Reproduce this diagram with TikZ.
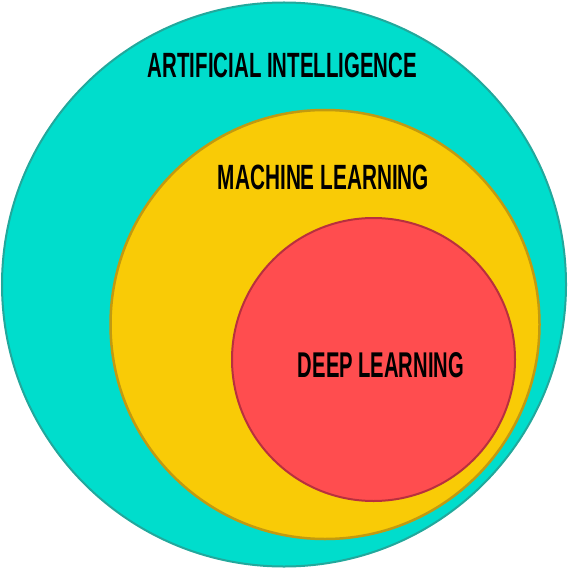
\documentclass[tikz,border=0pt]{standalone}
\usepackage{fontspec}
\setmainfont{Liberation Sans}
\definecolor{aifill}{HTML}{00DDCC}
\definecolor{aidraw}{HTML}{22A89C}
\definecolor{mlfill}{HTML}{F9CB06}
\definecolor{mldraw}{HTML}{C29A10}
\definecolor{dlfill}{HTML}{FF4D4F}
\definecolor{dldraw}{HTML}{B8303E}
\tikzset{
  ring/.style={circle, inner sep=0pt, line width=2pt},
  lbl/.style={inner sep=0pt, text=black, font=\bfseries},
}
\begin{document}
\begin{tikzpicture}[x=1pt,y=-1pt]
\useasboundingbox (0,0) rectangle (567,569);
\node[ring, fill=aifill, draw=aidraw, minimum size=564pt] (ai) at (284,284.5) {};
\node[ring, fill=mlfill, draw=mldraw, line width=2.5pt, minimum size=429pt] (ml) at (325,324.5) {};
\node[ring, fill=dlfill, draw=dldraw, minimum size=283pt] (dl) at (373.5,359.5) {};
\node[lbl] (tai) at (282.5,65) {\resizebox{269pt}{24.5pt}{ARTIFICIAL INTELLIGENCE}};
\node[lbl] (tml) at (323.5,177.5) {\resizebox{211pt}{24.5pt}{MACHINE LEARNING}};
\node[lbl] (tdl) at (381,365) {\resizebox{166pt}{25pt}{DEEP LEARNING}};
\end{tikzpicture}
\end{document}
